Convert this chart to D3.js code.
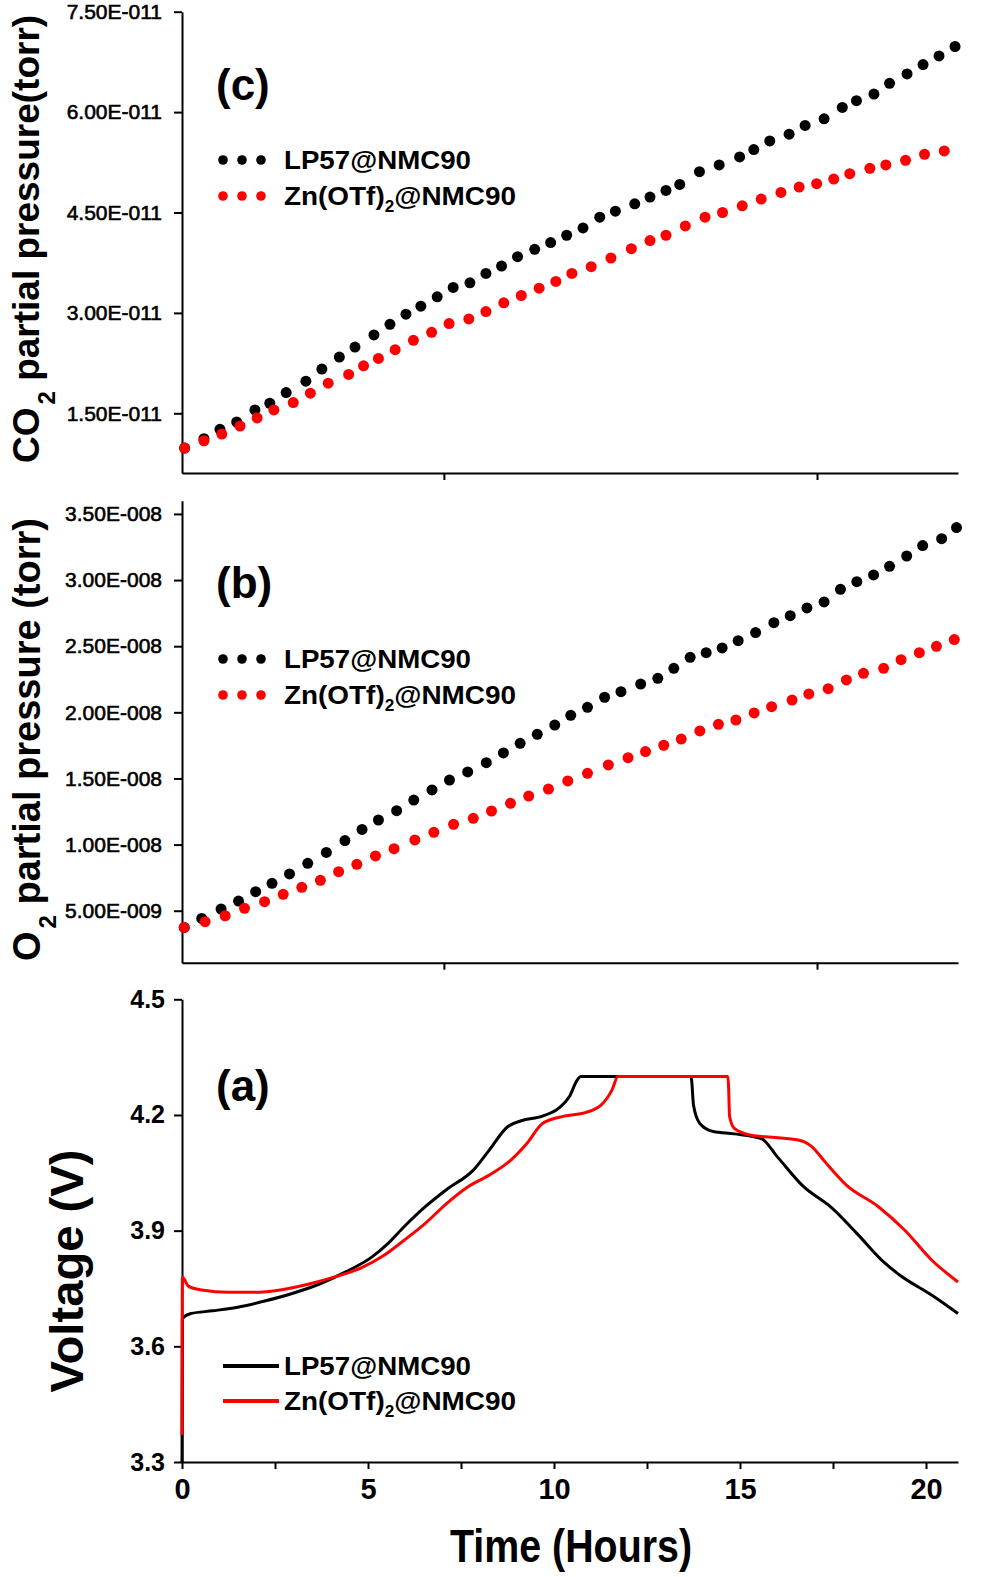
<!DOCTYPE html>
<html>
<head>
<meta charset="utf-8">
<script src="https://cdn.jsdelivr.net/npm/d3@7"></script>
<style>
  body { margin: 0; background: #fff; }
  svg { display: block; font-family: Arial, "Liberation Sans", sans-serif; }
</style>
</head>
<body>
<svg width="993" height="1577"></svg>
<script>
// ---- data (time in hours) ----
// (c) CO2 partial pressure, in units of 1E-11 torr
const co2TimeLP57 = [0.07, 0.59, 1.02, 1.47, 1.96, 2.36, 2.80, 3.33, 3.76, 4.23, 4.65, 5.16, 5.59, 6.02, 6.42, 6.86, 7.29, 7.74, 8.17, 8.59, 9.02, 9.48, 9.91, 10.34, 10.78, 11.23, 11.65, 12.17, 12.58, 13.01, 13.38, 13.91, 14.44, 14.99, 15.37, 15.80, 16.32, 16.75, 17.26, 17.75, 18.13, 18.60, 19.02, 19.49, 19.92, 20.35, 20.78];
const co2LP57 = [0.98, 1.12, 1.26, 1.37, 1.55, 1.65, 1.81, 1.98, 2.16, 2.34, 2.49, 2.67, 2.83, 2.98, 3.10, 3.24, 3.38, 3.45, 3.59, 3.70, 3.84, 3.95, 4.05, 4.16, 4.27, 4.43, 4.52, 4.63, 4.73, 4.83, 4.92, 5.11, 5.21, 5.33, 5.44, 5.57, 5.67, 5.80, 5.90, 6.07, 6.17, 6.27, 6.43, 6.57, 6.71, 6.84, 6.98];
const co2TimeZn = [0.07, 0.59, 1.07, 1.56, 2.02, 2.47, 2.99, 3.45, 3.93, 4.48, 4.88, 5.28, 5.73, 6.22, 6.71, 7.18, 7.71, 8.17, 8.65, 9.12, 9.60, 10.05, 10.48, 11.00, 11.53, 12.08, 12.58, 13.01, 13.53, 14.06, 14.53, 15.06, 15.57, 16.10, 16.59, 17.06, 17.52, 17.95, 18.49, 18.92, 19.45, 19.96, 20.49];
const co2Zn = [0.98, 1.09, 1.19, 1.31, 1.43, 1.55, 1.66, 1.80, 1.95, 2.08, 2.21, 2.32, 2.45, 2.59, 2.71, 2.84, 2.91, 3.02, 3.15, 3.26, 3.37, 3.47, 3.59, 3.69, 3.82, 3.96, 4.08, 4.16, 4.30, 4.43, 4.50, 4.60, 4.70, 4.80, 4.88, 4.93, 5.00, 5.08, 5.16, 5.21, 5.28, 5.37, 5.42];
const co2Ticks = [1.5, 3.0, 4.5, 6.0, 7.5];
const co2TickLabels = ["1.50E-011", "3.00E-011", "4.50E-011", "6.00E-011", "7.50E-011"];

// (b) O2 partial pressure, in units of 1E-8 torr
const o2TimeLP57 = [0.06, 0.53, 1.05, 1.52, 1.98, 2.42, 2.89, 3.38, 3.88, 4.38, 4.84, 5.28, 5.77, 6.23, 6.72, 7.19, 7.68, 8.18, 8.64, 9.09, 9.55, 10.02, 10.45, 10.90, 11.36, 11.80, 12.33, 12.79, 13.22, 13.66, 14.09, 14.52, 14.95, 15.42, 15.91, 16.35, 16.80, 17.26, 17.70, 18.14, 18.59, 19.02, 19.48, 19.91, 20.42, 20.82];
const o2LP57 = [0.374, 0.442, 0.513, 0.573, 0.644, 0.707, 0.778, 0.858, 0.941, 1.030, 1.115, 1.186, 1.256, 1.337, 1.413, 1.488, 1.549, 1.619, 1.693, 1.766, 1.834, 1.904, 1.977, 2.038, 2.114, 2.156, 2.214, 2.257, 2.333, 2.416, 2.451, 2.487, 2.542, 2.603, 2.678, 2.731, 2.789, 2.835, 2.930, 2.988, 3.039, 3.104, 3.182, 3.261, 3.313, 3.397];
const o2TimeZn = [0.06, 0.62, 1.16, 1.68, 2.22, 2.72, 3.22, 3.72, 4.21, 4.70, 5.20, 5.70, 6.26, 6.77, 7.30, 7.83, 8.32, 8.83, 9.32, 9.85, 10.37, 10.90, 11.46, 11.99, 12.46, 12.95, 13.42, 13.92, 14.42, 14.89, 15.38, 15.85, 16.40, 16.85, 17.37, 17.86, 18.32, 18.86, 19.33, 19.82, 20.28, 20.76];
const o2Zn = [0.374, 0.417, 0.462, 0.518, 0.568, 0.624, 0.677, 0.730, 0.795, 0.851, 0.914, 0.969, 1.035, 1.093, 1.153, 1.199, 1.254, 1.312, 1.367, 1.420, 1.481, 1.539, 1.602, 1.657, 1.703, 1.751, 1.798, 1.859, 1.909, 1.942, 1.995, 2.043, 2.093, 2.139, 2.179, 2.245, 2.295, 2.333, 2.398, 2.451, 2.499, 2.550];
const o2Ticks = [0.5, 1.0, 1.5, 2.0, 2.5, 3.0, 3.5];
const o2TickLabels = ["5.00E-009", "1.00E-008", "1.50E-008", "2.00E-008", "2.50E-008", "3.00E-008", "3.50E-008"];

// (a) voltage profile
const vTimeLP57 = [0, 0.01, 0.24, 0.82, 1.53, 2.25, 2.96, 3.68, 4.40, 5.11, 5.54, 5.97, 6.54, 7.12, 7.83, 8.26, 8.76, 9.12, 9.69, 10.12, 10.41, 10.62, 10.72, 11.2, 13.2, 13.68, 13.70, 13.75, 13.92, 14.28, 14.85, 15.57, 16.00, 16.71, 17.43, 18.14, 18.86, 19.29, 20.15, 20.86];
const vLP57 = [3.30, 3.672, 3.685, 3.692, 3.702, 3.718, 3.737, 3.761, 3.793, 3.832, 3.867, 3.910, 3.962, 4.007, 4.057, 4.109, 4.170, 4.185, 4.197, 4.217, 4.247, 4.290, 4.300, 4.300, 4.300, 4.300, 4.290, 4.225, 4.178, 4.157, 4.151, 4.139, 4.092, 4.014, 3.962, 3.893, 3.819, 3.785, 3.733, 3.685];
const vTimeZn = [0, 0.01, 0.17, 0.53, 1.25, 1.96, 2.68, 3.39, 4.11, 4.83, 5.40, 5.97, 6.54, 7.12, 7.69, 8.26, 8.84, 9.27, 9.69, 10.27, 10.84, 11.27, 11.56, 11.72, 12.2, 14.2, 14.67, 14.69, 14.72, 14.85, 15.27, 15.85, 16.57, 16.93, 17.28, 17.86, 18.72, 19.43, 20.15, 20.86];
const vZn = [3.37, 3.780, 3.756, 3.746, 3.740, 3.740, 3.747, 3.761, 3.780, 3.804, 3.834, 3.875, 3.919, 3.971, 4.014, 4.044, 4.083, 4.126, 4.178, 4.197, 4.206, 4.226, 4.265, 4.300, 4.300, 4.300, 4.300, 4.280, 4.196, 4.165, 4.148, 4.142, 4.135, 4.118, 4.079, 4.018, 3.962, 3.901, 3.824, 3.767];
const vTicks = [3.3, 3.6, 3.9, 4.2, 4.5];
const timeTicks = [0, 2.5, 5, 7.5, 10, 12.5, 15, 17.5, 20];
const timeTopTicks = [7.04, 17.07];

const seriesNames = ["LP57@NMC90", "Zn(OTf)2@NMC90"];
const seriesColors = ["#000000", "#ff0000"];

const svg = d3.select("svg");
svg.append("rect").attr("width", 993).attr("height", 1577).attr("fill", "#fff");

// shared time scale
const x = d3.scaleLinear().domain([0, 20.86]).range([182, 958]);

// per-panel y scales
const yC = d3.scaleLinear().domain([0.608, 7.5]).range([473, 11.7]);
const yB = d3.scaleLinear().domain([0.107, 3.60]).range([962.7, 500.7]);
const yA = d3.scaleLinear().domain([3.3, 4.5]).range([1462, 999.3]);

function styleAxis(g) {
    g.select(".domain").attr("stroke", "#000").attr("stroke-width", 2);
    g.selectAll(".tick line").attr("stroke", "#000").attr("stroke-width", 2);
    g.selectAll(".tick text").attr("fill", "#000");
}

// y axes
function drawYAxis(y, ticks, labels, fontSize, weight, pad) {
    const g = svg.append("g")
        .attr("transform", `translate(${x.range()[0]},0)`)
        .call(d3.axisLeft(y).tickValues(ticks).tickSize(8).tickPadding(pad).tickSizeOuter(0)
            .tickFormat((d, i) => labels ? labels[i] : d3.format(".1f")(d)));
    styleAxis(g);
    g.selectAll(".tick text")
        .attr("font-size", fontSize + "px")
        .attr("font-weight", weight)
        .attr("font-family", "Arial, 'Liberation Sans', sans-serif");
    if (weight === "normal") g.selectAll(".tick text").attr("stroke", "#000").attr("stroke-width", 0.6);
    return g;
}
drawYAxis(yC, co2Ticks, co2TickLabels, 21, "normal", 12);
drawYAxis(yB, o2Ticks, o2TickLabels, 21, "normal", 12);
drawYAxis(yA, vTicks, null, 25, "bold", 9);

// x axes
function drawXAxis(yPos, ticks, withLabels) {
    const g = svg.append("g")
        .attr("transform", `translate(0,${yPos})`)
        .call(d3.axisBottom(x).tickValues(ticks).tickSize(7).tickPadding(9).tickSizeOuter(0)
            .tickFormat(d => (withLabels && d % 5 === 0) ? d : ""));
    styleAxis(g);
    g.selectAll(".tick text")
        .attr("font-size", "29px")
        .attr("font-weight", "bold")
        .attr("font-family", "Arial, 'Liberation Sans', sans-serif");
    return g;
}
drawXAxis(yC.range()[0], timeTopTicks, false);
drawXAxis(yB.range()[0], timeTopTicks, false);
drawXAxis(yA.range()[0], timeTicks, true);

// scatter points
function drawDots(times, values, y, color) {
    svg.append("g").selectAll("circle")
        .data(times.map((t, i) => [t, values[i]]))
        .enter().append("circle")
        .attr("cx", d => x(d[0]))
        .attr("cy", d => y(d[1]))
        .attr("r", 5.5)
        .attr("fill", color);
}
drawDots(co2TimeLP57, co2LP57, yC, seriesColors[0]);
drawDots(co2TimeZn, co2Zn, yC, seriesColors[1]);
drawDots(o2TimeLP57, o2LP57, yB, seriesColors[0]);
drawDots(o2TimeZn, o2Zn, yB, seriesColors[1]);

// voltage lines
const vLine = d3.line()
    .x(d => x(d[0]))
    .y(d => yA(d[1]))
    .curve(d3.curveMonotoneX);
svg.append("path")
    .datum(vTimeLP57.map((t, i) => [t, vLP57[i]]))
    .attr("d", vLine).attr("fill", "none")
    .attr("stroke", seriesColors[0]).attr("stroke-width", 3);
svg.append("path")
    .datum(vTimeZn.map((t, i) => [t, vZn[i]]))
    .attr("d", vLine).attr("fill", "none")
    .attr("stroke", seriesColors[1]).attr("stroke-width", 3);

// legend label with subscript 2
function legendText(g, i, tx, ty) {
    const t = g.append("text")
        .attr("x", tx).attr("y", ty)
        .attr("font-size", "26px").attr("font-weight", "bold")
        .attr("fill", "#000");
    if (i === 0) {
        t.text(seriesNames[0]).attr("textLength", 187).attr("lengthAdjust", "spacingAndGlyphs");
    } else {
        t.append("tspan").text("Zn(OTf)");
        t.append("tspan").text("2").attr("font-size", "16px").attr("dy", 7);
        t.append("tspan").text("@NMC90").attr("dy", -7);
        t.attr("textLength", 232).attr("lengthAdjust", "spacingAndGlyphs");
    }
}

function dotLegend(top) {
    const g = svg.append("g");
    [0, 1].forEach(i => {
        const cy = top + i * 36;
        [223, 242, 261].forEach(cx => {
            g.append("circle").attr("cx", cx).attr("cy", cy).attr("r", 4.8).attr("fill", seriesColors[i]);
        });
        legendText(g, i, 284, cy + 9);
    });
}
dotLegend(160);
dotLegend(659);

// line legend for (a)
const legA = svg.append("g");
[0, 1].forEach(i => {
    const cy = 1366 + i * 35;
    legA.append("line").attr("x1", 223).attr("x2", 279).attr("y1", cy).attr("y2", cy)
        .attr("stroke", seriesColors[i]).attr("stroke-width", 4);
    legendText(legA, i, 284, cy + 9);
});

// panel letters
[["(c)", 100], ["(b)", 598], ["(a)", 1101]].forEach(p => {
    svg.append("text").attr("x", 216).attr("y", p[1])
        .attr("font-size", "44px").attr("font-weight", "bold")
        .text(p[0]);
});

// y titles (rotated)
function yTitle(xPos, yStart, first, rest, fontSize) {
    const t = svg.append("text")
        .attr("transform", `translate(${xPos},${yStart}) rotate(-90)`)
        .attr("font-size", fontSize + "px").attr("font-weight", "bold");
    t.append("tspan").text(first);
    t.append("tspan").text("2").attr("font-size", "24px").attr("dy", 16).attr("dx", 3);
    t.append("tspan").text(rest).attr("dy", -16);
    return t;
}
yTitle(39, 463, "CO", " partial pressure(torr)", 37);
yTitle(40, 961, "O", " partial pressure (torr)", 38);

svg.append("text")
    .attr("transform", "translate(83,1271) rotate(-90)")
    .attr("text-anchor", "middle")
    .attr("font-size", "46px").attr("font-weight", "bold")
    .attr("textLength", 243).attr("lengthAdjust", "spacingAndGlyphs")
    .text("Voltage (V)");

// x title
svg.append("text")
    .attr("x", 571).attr("y", 1562)
    .attr("text-anchor", "middle")
    .attr("font-size", "46px").attr("font-weight", "bold")
    .attr("textLength", 242).attr("lengthAdjust", "spacingAndGlyphs")
    .text("Time (Hours)");
</script>
</body>
</html>
